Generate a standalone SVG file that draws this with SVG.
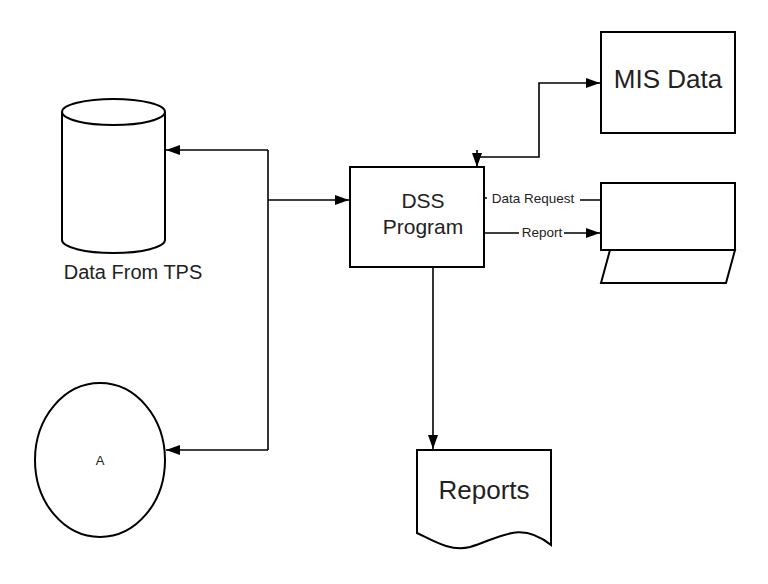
<svg xmlns="http://www.w3.org/2000/svg" width="768" height="584" viewBox="0 0 768 584">
<style>
.s{fill:#fff;stroke:#000;stroke-width:2}
.c{fill:none;stroke:#000;stroke-width:1.6}
text{font-family:"Liberation Sans",Arial,sans-serif;fill:#222;text-anchor:middle}
</style>
<defs><marker id="a" markerWidth="14" markerHeight="10" refX="14" refY="5" orient="auto" markerUnits="userSpaceOnUse"><path d="M0,0L14,5L0,10Z" fill="#000"/></marker></defs>
<rect width="768" height="584" fill="#fff"/>
<g id="tps"><path class="s" d="M62,112 v128 a51.5,13 0 0 0 103,0 v-128"/><ellipse class="s" cx="113.5" cy="112" rx="51.5" ry="13"/><text x="133" y="279" font-size="20">Data From TPS</text></g>
<g id="a-node"><ellipse class="s" cx="100" cy="460" rx="65" ry="77"/><text x="100" y="465" font-size="13">A</text></g>
<g id="dss"><rect class="s" x="350" y="167" width="134" height="100"/><text x="423" y="208" font-size="21">DSS</text><text x="423" y="234" font-size="21">Program</text></g>
<g id="mis"><rect class="s" x="601" y="32" width="134" height="101"/><text x="668" y="88" font-size="26">MIS Data</text></g>
<g id="terminal"><rect class="s" x="601" y="183" width="134" height="67"/><path class="s" d="M610,250H735L726,283H601Z"/></g>
<g id="reports"><path class="s" d="M417,450H551V545C520,520 500,538 470,547C450,552 432,540 417,533Z"/><text x="484" y="499" font-size="26">Reports</text></g>
<g id="connectors">
<path class="c" d="M268,200H349" marker-end="url(#a)"/>
<path class="c" d="M268,150V450"/>
<path class="c" d="M268,150H166" marker-end="url(#a)"/>
<path class="c" d="M268,450H166" marker-end="url(#a)"/>
<path class="c" d="M477,150V167" marker-end="url(#a)"/>
<path class="c" d="M477,157H539V83H600" marker-end="url(#a)"/>
<path class="c" d="M484,198H487M580,200H601"/>
<text x="533" y="203" font-size="13.5">Data Request</text>
<path class="c" d="M484,233H519M564,233H600" marker-end="url(#a)"/>
<text x="542" y="237" font-size="13.5">Report</text>
<path class="c" d="M433,267V449" marker-end="url(#a)"/>
</g>
</svg>
